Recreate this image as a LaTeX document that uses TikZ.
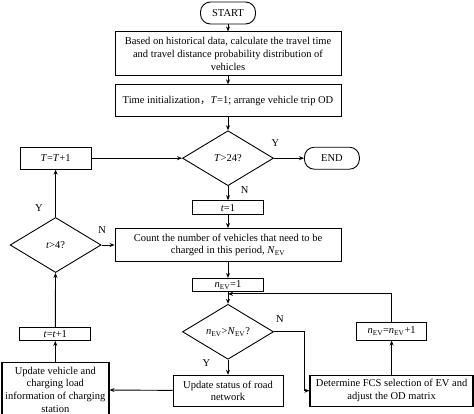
\documentclass[tikz,border=0pt]{standalone}
\usepackage{fontspec}
\setmainfont{Liberation Serif}
\newfontfamily\cjk{Noto Sans CJK SC}
\usetikzlibrary{shapes.geometric,arrows.meta,positioning}

\newcommand{\nev}{\textit{n}\textsubscript{EV}}
\newcommand{\Nev}{\textit{N}\textsubscript{EV}}

\begin{document}
\begin{tikzpicture}[x=1pt, y=1pt,
  node distance = 8pt and 12pt,
  box/.style   = {rectangle, draw, line width=0.9pt, align=center,
                  inner sep=1pt, font=\fontsize{10.5}{12.6}\selectfont},
  proc/.style  = {box, minimum width=226pt},
  small/.style = {box, minimum width=71pt, minimum height=14pt},
  term/.style  = {box, rounded corners=10pt,
                  minimum width=55pt, minimum height=22pt},
  cond/.style  = {diamond, draw, line width=0.9pt, inner sep=0pt,
                  minimum width=91pt, minimum height=55pt,
                  font=\fontsize{10.5}{12}\selectfont},
  arr/.style   = {-{Stealth[length=5pt,width=4pt]}, line width=0.9pt},
  lbl/.style   = {font=\fontsize{10.5}{12}\selectfont}
]
\useasboundingbox (0,0) rectangle (474,-413);

% -- Main column --
\node[term] (start) at (228,-13) {START};
\node[proc, minimum height=44pt, below=7pt of start] (hist)
      {Based on historical data, calculate the travel time\\
       and travel distance probability distribution of\\
       vehicles};
\node[proc, minimum height=32pt, below=8pt of hist] (init)
      {Time initialization{\cjk ，}\textit{T}=1; arrange vehicle trip OD};
\node[cond, below=13pt of init] (bigT) {\textit{T}>24?};
\node[small, below=14pt of bigT] (tone) {\textit{t}=1};
\node[proc, minimum height=33pt, below=13pt of tone] (count)
      {Count the number of vehicles that need to be\\
       charged in this period, \Nev};
\node[small, minimum height=13pt, below=16pt of count] (nevone) {\nev=1};
\coordinate[below=2pt of nevone] (join);
\node[cond, below=12pt of nevone] (cmp) {\nev>\Nev?};
\node[box, minimum width=110pt, minimum height=31pt, below=15pt of cmp] (road)
      {Update status of road\\ network};

% -- Right side --
\node[term, right=30pt of bigT] (stop) {END};
\node[box, line width=1.3pt, minimum width=163pt, minimum height=31pt,
      right=26pt of road] (fcs)
      {Determine FCS selection of EV and\\ adjust the OD matrix};
\node[small, minimum width=70pt, minimum height=18pt, above=34pt of fcs] (nevinc)
      {\nev=\nev+1};

% -- Left side --
\node[cond, left=13pt of count] (small) {\textit{t}>4?};
\node[small, minimum height=22pt] (Tinc) at (small |- bigT) {\textit{T}=\textit{T}+1};
\node[box, line width=1.5pt, minimum width=107pt, minimum height=54pt,
      left=63pt of road, yshift=1pt] (load)
      {Update vehicle and\\ charging load\\ information of charging\\ station};
\node[small, minimum height=13pt, above=21pt of load] (tinc) {\textit{t}=\textit{t}+1};

% -- Arrows: main column --
\draw[arr] (start)  -- (hist);
\draw[arr] (hist)   -- (init);
\draw[arr] (init)   -- (bigT);
\draw[arr] (bigT)   -- node[lbl, pos=0.25, right=9pt]{N} (tone);
\draw[arr] (tone)   -- (count);
\draw[arr] (count)  -- (nevone);
\draw[arr] (nevone) -- (cmp);
\draw[arr] (cmp)    -- node[lbl, pos=0.2, left=14pt]{Y} (road);
\draw[arr] (bigT)   -- node[lbl, pos=0.05, above=8pt]{Y} (stop);

% -- Arrows: inner loop --
\draw[arr] (cmp.east) -- node[lbl, pos=0.2, above=6pt]{N} ++(30,0) |- (fcs.west);
\draw[arr] (fcs)    -- (nevinc);
\draw[arr] (nevinc.north) |- (join);

% -- Arrows: outer loop --
\draw[arr] (road)   -- (load);
\draw[arr] (load)   -- (tinc);
\draw[arr] (tinc)   -- (small);
\draw[arr] (small)  -- node[lbl, pos=0.2, left=9pt]{Y} (Tinc);
\draw[arr] (small)  -- node[lbl, pos=0.05, above=8pt]{N} (count);
\draw[arr] (Tinc)   -- (bigT);

\end{tikzpicture}
\end{document}
